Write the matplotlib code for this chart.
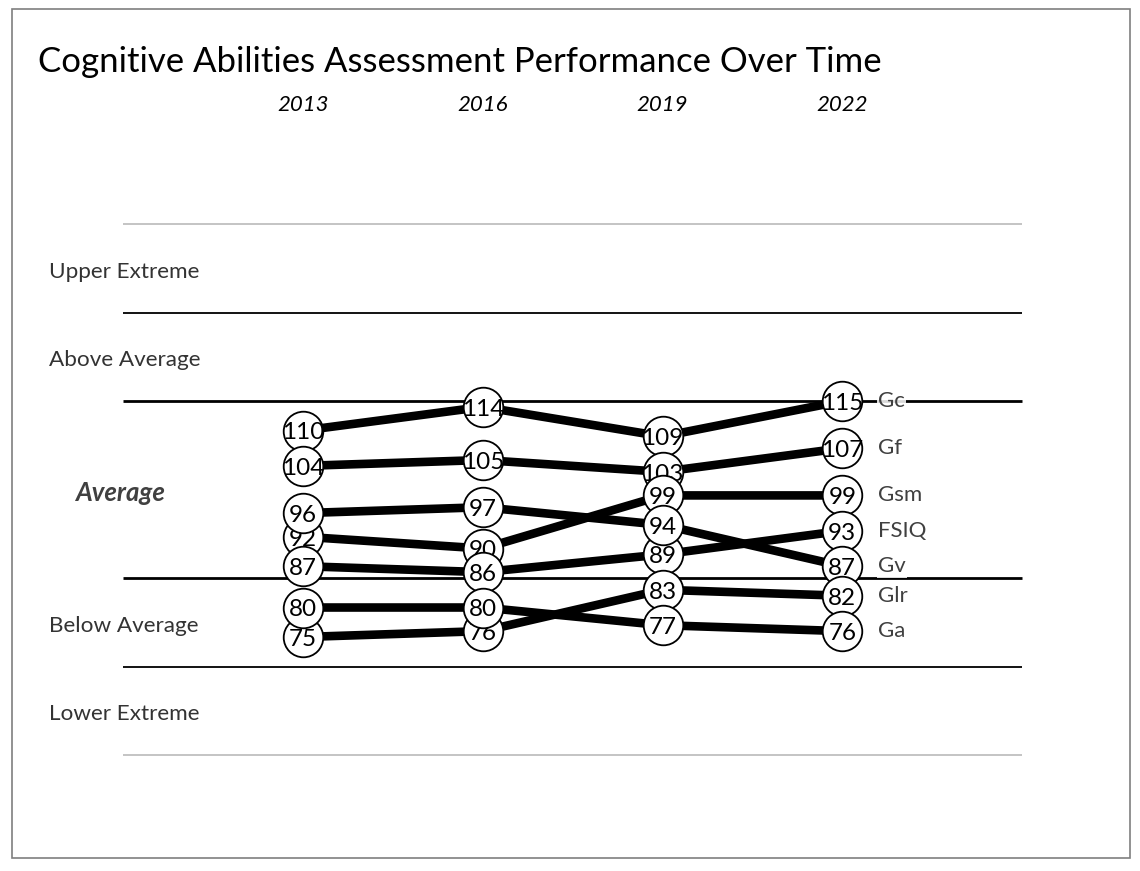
import matplotlib.pyplot as plt
from matplotlib.patches import Rectangle

plt.rcParams['font.family'] = ['Lato', 'DejaVu Sans']

years = [2013, 2016, 2019, 2022]
series = ["Gc", "Gf", "Gsm", "FSIQ", "Gv", "Glr", "Ga"]
scores = [
    [110, 114, 109, 115],
    [104, 105, 103, 107],
    [92, 90, 99, 99],
    [87, 86, 89, 93],
    [96, 97, 94, 87],
    [75, 76, 83, 82],
    [80, 80, 77, 76],
]

bands = ["Upper Extreme", "Above Average", "Average", "Below Average", "Lower Extreme"]
band_mid = [137.5, 122.5, 100, 77.5, 62.5]
edges_gray = [145, 55]
edges_thin = [130, 70]
edges_thick = [115, 85]

fig = plt.figure(figsize=(11.4, 8.71), dpi=100)
ax = fig.add_axes([0, 0, 1, 1])
ax.set_xlim(2007.94, 2026.97)
ax.set_ylim(35.34, 182.97)
ax.axis('off')

x0, x1 = 2010, 2025
ax.hlines(edges_gray, x0, x1, color='#bfbfbf', lw=1.3, zorder=1)
ax.hlines(edges_thin, x0, x1, color='black', lw=1.3, zorder=1)
ax.hlines(edges_thick, x0, x1, color='black', lw=2.0, zorder=1)

# band names on the left, nudged down a bit to sit like the original
for name, mid in zip(bands, band_mid):
    if name == "Average":
        ax.text(2009.2, mid - 0.6, name, fontsize=18.5, fontweight='bold', style='italic',
                color='#404040', va='center', ha='left')
    else:
        ax.text(2008.75, mid - 0.6, name, fontsize=16.2, color='#333333', va='center', ha='left')

for y in years:
    ax.text(y, 165.2, str(y), fontsize=16, style='italic', ha='center', va='center')

for i, (name, vals) in enumerate(zip(series, scores)):
    ax.plot(years, vals, color='black', lw=6.2, solid_capstyle='butt', zorder=2)
    z = 3 + i * 0.1
    ax.plot(years, vals, ls='none', marker='o', ms=28.5, mfc='white', mec='black',
            mew=1.3, zorder=z)
    for yr, v in zip(years, vals):
        ax.text(yr, v - 0.4, str(v), fontsize=17.5, ha='center', va='center', zorder=z + 0.05)
    ax.text(years[-1] + 0.6, vals[-1], name, fontsize=16, color='#404040', ha='left', va='center',
            zorder=5, bbox=dict(facecolor='white', edgecolor='none', alpha=0.85, pad=1))

fig.text(38 / 1140, 1 - 62 / 871, "Cognitive Abilities Assessment Performance Over Time",
         fontsize=25, ha='left', va='center')

fig.patches.append(Rectangle((12 / 1140, 1 - 858 / 871), 1118 / 1140, 849 / 871,
                             transform=fig.transFigure, fill=False, edgecolor='#7f7f7f', lw=1.2))

fig.savefig('out.png', dpi=100)
